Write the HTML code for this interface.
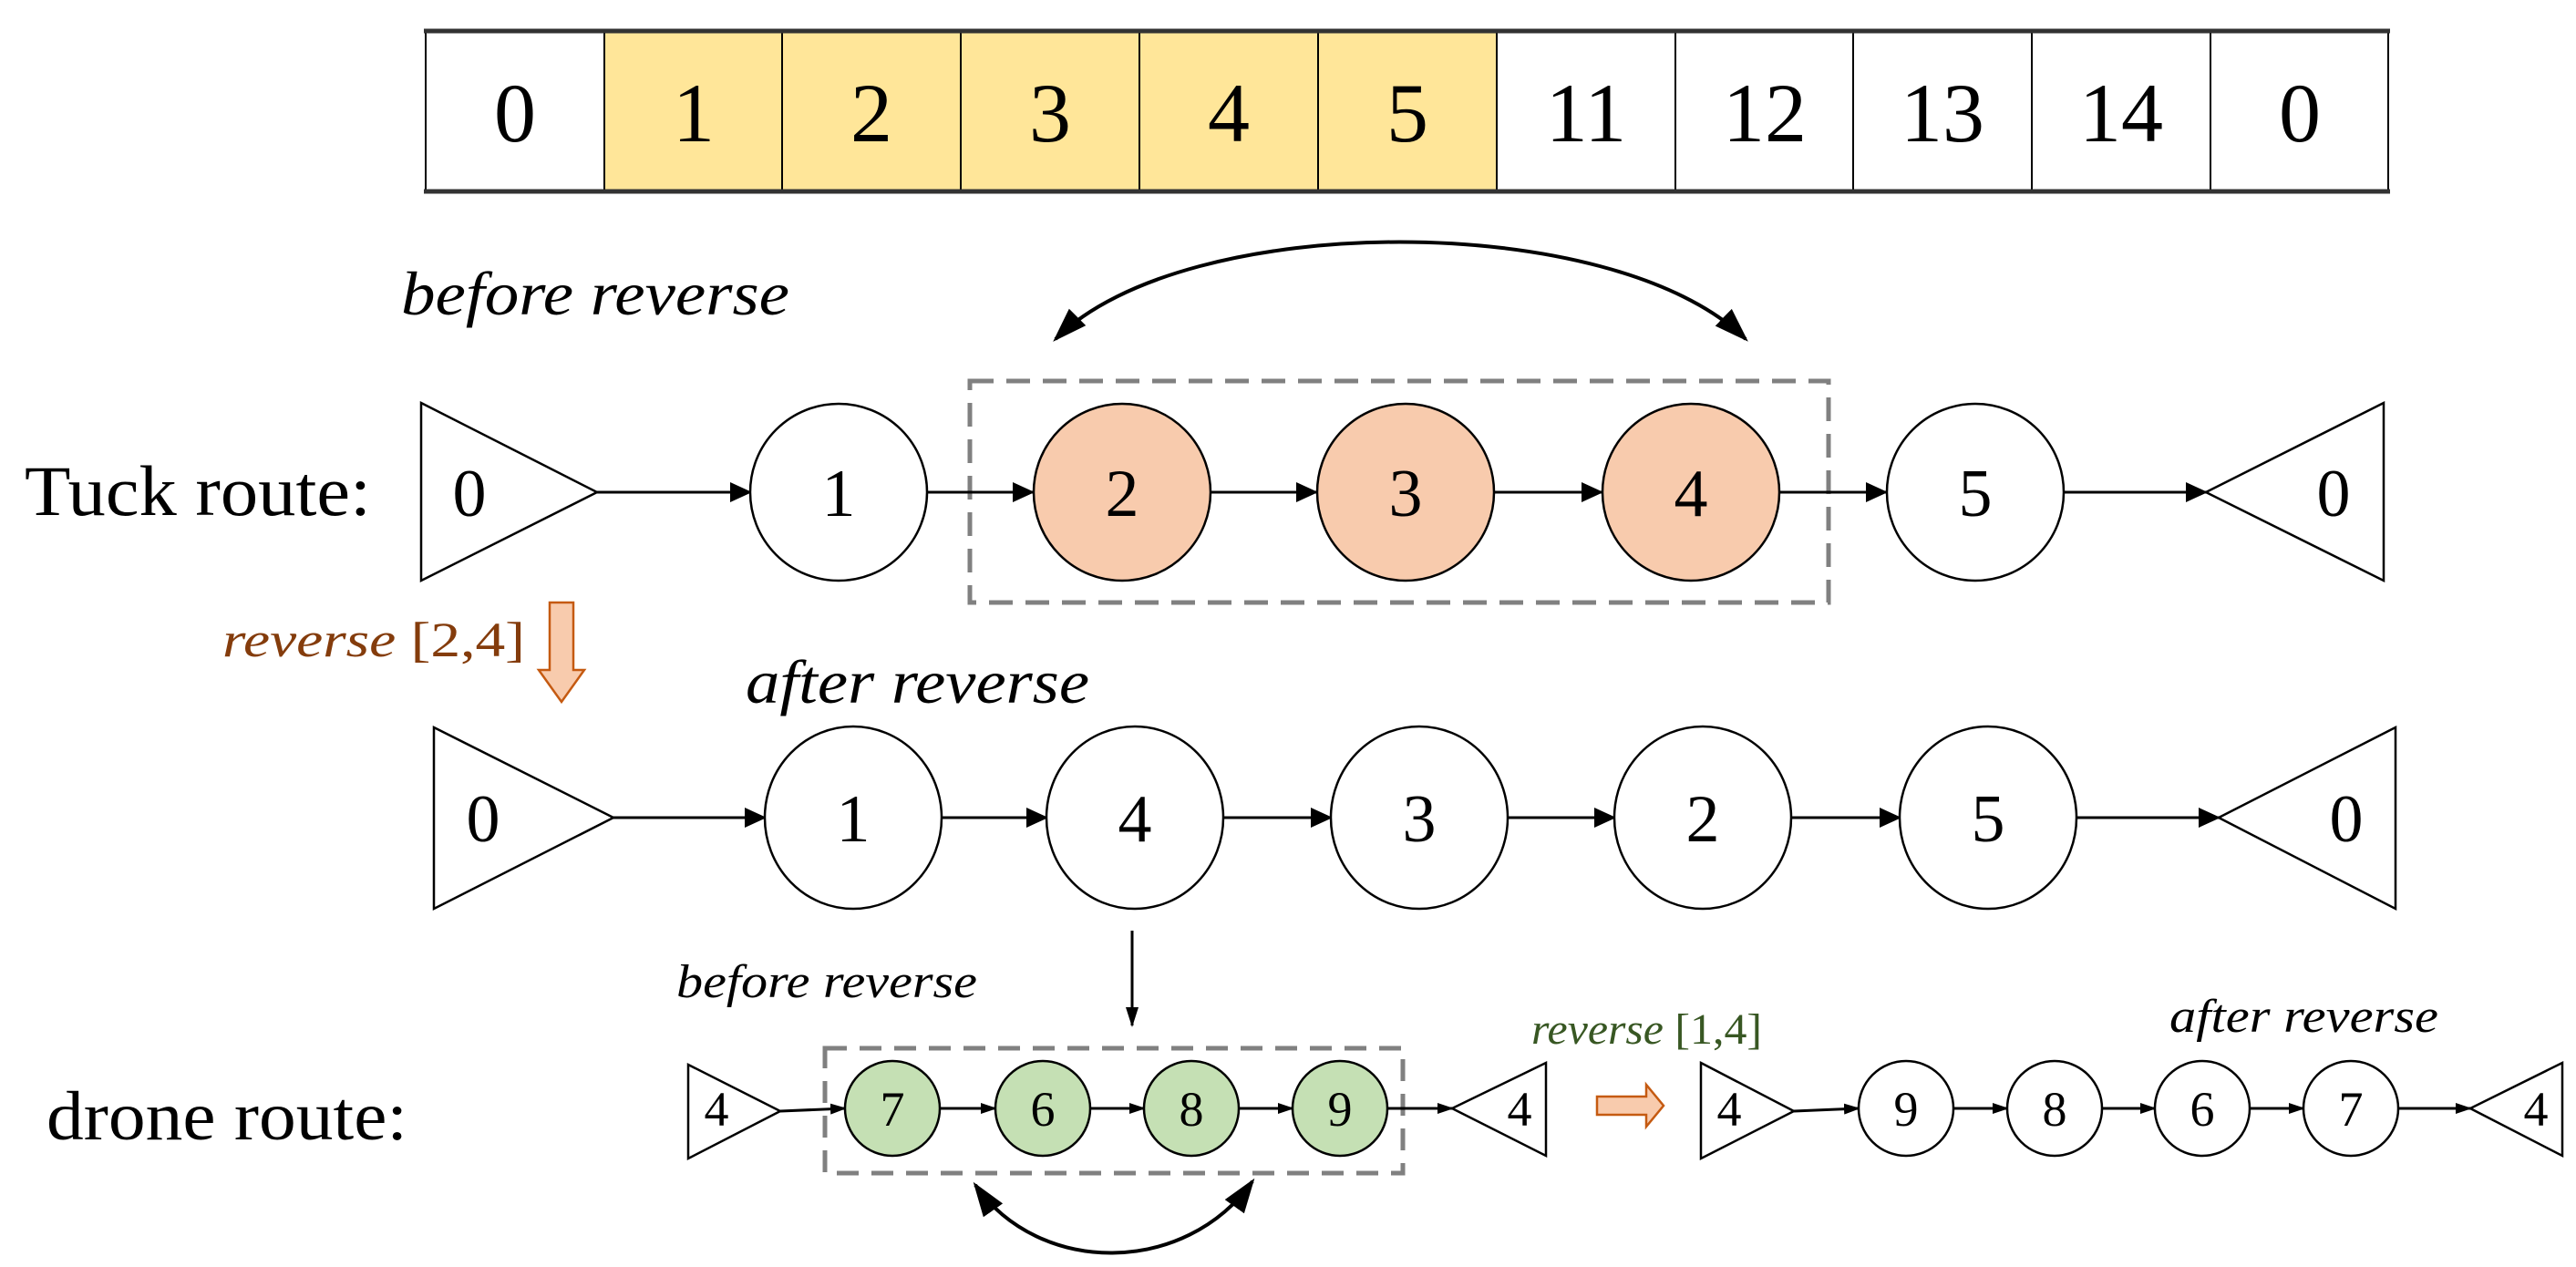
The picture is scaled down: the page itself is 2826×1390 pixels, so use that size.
<!DOCTYPE html>
<html><head><meta charset="utf-8"><style>html,body{margin:0;padding:0;background:#fff}svg{display:block}</style></head>
<body>
<svg width="2826" height="1390" viewBox="0 0 2826 1390" xmlns="http://www.w3.org/2000/svg" font-family="'Liberation Serif', serif">
<defs>
<marker id="ahB" markerWidth="26" markerHeight="26" refX="22" refY="13" orient="auto" markerUnits="userSpaceOnUse" viewBox="0 0 26 26"><path d="M0,2 L24,13 L0,24 z" fill="#000"/></marker>
<marker id="ahS" markerWidth="22" markerHeight="22" refX="20" refY="11" orient="auto" markerUnits="userSpaceOnUse" viewBox="0 0 22 22"><path d="M0,4 L22,11 L0,18 z" fill="#000"/></marker>
<marker id="ahT" markerWidth="18" markerHeight="18" refX="16" refY="9" orient="auto" markerUnits="userSpaceOnUse" viewBox="0 0 18 18"><path d="M0,3 L18,9 L0,15 z" fill="#000"/></marker>
<marker id="ahA" markerWidth="44" markerHeight="44" refX="34" refY="22" orient="auto-start-reverse" markerUnits="userSpaceOnUse" viewBox="0 0 44 44"><path d="M0,9 L38,22 L0,35 z" fill="#000"/></marker>
</defs>

<!-- top array -->
<g stroke="#000" stroke-width="2">
<rect x="467" y="34" width="196" height="176" fill="#fff"/>
<rect x="663" y="34" width="979" height="176" fill="#FFE699"/>
<rect x="1642" y="34" width="978" height="176" fill="#fff"/>
<line x1="858" y1="34" x2="858" y2="210"/><line x1="1054" y1="34" x2="1054" y2="210"/>
<line x1="1250" y1="34" x2="1250" y2="210"/><line x1="1446" y1="34" x2="1446" y2="210"/>
<line x1="1838" y1="34" x2="1838" y2="210"/><line x1="2033" y1="34" x2="2033" y2="210"/>
<line x1="2229" y1="34" x2="2229" y2="210"/><line x1="2425" y1="34" x2="2425" y2="210"/>
</g>
<line x1="465" y1="34" x2="2622" y2="34" stroke="#333" stroke-width="5"/>
<line x1="465" y1="210" x2="2622" y2="210" stroke="#333" stroke-width="5"/>
<g font-size="92" text-anchor="middle" fill="#000">
<text x="565" y="155">0</text><text x="761" y="155">1</text><text x="956" y="155">2</text><text x="1152" y="155">3</text><text x="1348" y="155">4</text><text x="1544" y="155">5</text><text x="1740" y="155">11</text><text x="1936" y="155">12</text><text x="2131" y="155">13</text><text x="2327" y="155">14</text><text x="2523" y="155">0</text>
</g>

<!-- tuck route before -->
<text x="440" y="345" font-size="68" font-style="italic" textLength="426" lengthAdjust="spacingAndGlyphs">before reverse</text>
<path d="M1158,372 C1300,230 1770,230 1915,372" fill="none" stroke="#000" stroke-width="4" marker-start="url(#ahA)" marker-end="url(#ahA)"/>
<text x="27" y="565" font-size="78" textLength="380" lengthAdjust="spacingAndGlyphs">Tuck route:</text>
<rect x="1064" y="418" width="942" height="243" fill="none" stroke="#808080" stroke-width="5" stroke-dasharray="26,14"/>
<g stroke="#000" stroke-width="3" marker-end="url(#ahB)">
<line x1="655" y1="540" x2="823" y2="540"/>
<line x1="1018" y1="540" x2="1133" y2="540"/>
<line x1="1329" y1="540" x2="1444" y2="540"/>
<line x1="1640" y1="540" x2="1757" y2="540"/>
<line x1="1953" y1="540" x2="2069" y2="540"/>
<line x1="2265" y1="540" x2="2420" y2="540"/>
</g>
<g stroke="#000" stroke-width="2.5">
<path d="M462,442 L655,540 L462,637 z" fill="#fff"/>
<path d="M2615,442 L2420,540 L2615,637 z" fill="#fff"/>
<ellipse cx="920" cy="540" rx="97" ry="97" fill="#fff"/>
<ellipse cx="1231" cy="540" rx="97" ry="97" fill="#F8CBAD"/>
<ellipse cx="1542" cy="540" rx="97" ry="97" fill="#F8CBAD"/>
<ellipse cx="1855" cy="540" rx="97" ry="97" fill="#F8CBAD"/>
<ellipse cx="2167" cy="540" rx="97" ry="97" fill="#fff"/>
</g>
<g font-size="74" text-anchor="middle">
<text x="515" y="566">0</text><text x="920" y="566">1</text><text x="1231" y="566">2</text><text x="1542" y="566">3</text><text x="1855" y="566">4</text><text x="2167" y="566">5</text><text x="2560" y="566">0</text>
</g>

<!-- reverse [2,4] -->
<text x="244" y="720" font-size="54" fill="#843C0C" textLength="332" lengthAdjust="spacingAndGlyphs"><tspan font-style="italic">reverse</tspan> [2,4]</text>
<path d="M603,661 L629,661 L629,735 L641,735 L616,770 L591,735 L603,735 z" fill="#F8CBAD" stroke="#C55A11" stroke-width="2.5"/>

<!-- after reverse -->
<text x="818" y="771" font-size="68" font-style="italic" textLength="377" lengthAdjust="spacingAndGlyphs">after reverse</text>
<g stroke="#000" stroke-width="3" marker-end="url(#ahB)">
<line x1="673" y1="897" x2="839" y2="897"/>
<line x1="1033" y1="897" x2="1148" y2="897"/>
<line x1="1342" y1="897" x2="1460" y2="897"/>
<line x1="1654" y1="897" x2="1771" y2="897"/>
<line x1="1965" y1="897" x2="2084" y2="897"/>
<line x1="2278" y1="897" x2="2434" y2="897"/>
</g>
<g stroke="#000" stroke-width="2.5" fill="#fff">
<path d="M476,798 L673,897 L476,997 z"/>
<path d="M2628,798 L2434,897 L2628,997 z"/>
<ellipse cx="936" cy="897" rx="97" ry="100"/>
<ellipse cx="1245" cy="897" rx="97" ry="100"/>
<ellipse cx="1557" cy="897" rx="97" ry="100"/>
<ellipse cx="1868" cy="897" rx="97" ry="100"/>
<ellipse cx="2181" cy="897" rx="97" ry="100"/>
</g>
<g font-size="74" text-anchor="middle">
<text x="530" y="923">0</text><text x="936" y="923">1</text><text x="1245" y="923">4</text><text x="1557" y="923">3</text><text x="1868" y="923">2</text><text x="2181" y="923">5</text><text x="2574" y="923">0</text>
</g>

<line x1="1242" y1="1021" x2="1242" y2="1125" stroke="#000" stroke-width="3" marker-end="url(#ahS)"/>

<!-- drone route -->
<text x="742" y="1094" font-size="52" font-style="italic" textLength="330" lengthAdjust="spacingAndGlyphs">before reverse</text>
<text x="51" y="1250" font-size="76" textLength="396" lengthAdjust="spacingAndGlyphs">drone route:</text>
<rect x="905" y="1150" width="634" height="137" fill="none" stroke="#808080" stroke-width="5" stroke-dasharray="24,14"/>
<g stroke="#000" stroke-width="3" marker-end="url(#ahT)">
<line x1="856" y1="1219" x2="927" y2="1216"/>
<line x1="1031" y1="1216" x2="1092" y2="1216"/>
<line x1="1196" y1="1216" x2="1255" y2="1216"/>
<line x1="1359" y1="1216" x2="1418" y2="1216"/>
<line x1="1522" y1="1216" x2="1593" y2="1216"/>
<line x1="1968" y1="1219" x2="2039" y2="1216"/>
<line x1="2143" y1="1216" x2="2202" y2="1216"/>
<line x1="2306" y1="1216" x2="2364" y2="1216"/>
<line x1="2468" y1="1216" x2="2527" y2="1216"/>
<line x1="2631" y1="1216" x2="2710" y2="1216"/>
</g>
<g stroke="#000" stroke-width="2.5">
<path d="M755,1168 L856,1219 L755,1271 z" fill="#fff"/>
<path d="M1696,1166 L1593,1216 L1696,1268 z" fill="#fff"/>
<ellipse cx="979" cy="1216" rx="52" ry="52" fill="#C5E0B4"/>
<ellipse cx="1144" cy="1216" rx="52" ry="52" fill="#C5E0B4"/>
<ellipse cx="1307" cy="1216" rx="52" ry="52" fill="#C5E0B4"/>
<ellipse cx="1470" cy="1216" rx="52" ry="52" fill="#C5E0B4"/>
<path d="M1866,1166 L1968,1219 L1866,1271 z" fill="#fff"/>
<path d="M2811,1166 L2710,1216 L2811,1268 z" fill="#fff"/>
<ellipse cx="2091" cy="1216" rx="52" ry="52" fill="#fff"/>
<ellipse cx="2254" cy="1216" rx="52" ry="52" fill="#fff"/>
<ellipse cx="2416" cy="1216" rx="52" ry="52" fill="#fff"/>
<ellipse cx="2579" cy="1216" rx="52" ry="52" fill="#fff"/>
</g>
<g font-size="54" text-anchor="middle">
<text x="786" y="1235">4</text><text x="979" y="1235">7</text><text x="1144" y="1235">6</text><text x="1307" y="1235">8</text><text x="1470" y="1235">9</text><text x="1667" y="1235">4</text>
<text x="1897" y="1235">4</text><text x="2091" y="1235">9</text><text x="2254" y="1235">8</text><text x="2416" y="1235">6</text><text x="2579" y="1235">7</text><text x="2782" y="1235">4</text>
</g>
<path d="M1070,1300 C1140,1400 1300,1400 1374,1296" fill="none" stroke="#000" stroke-width="4" marker-start="url(#ahA)" marker-end="url(#ahA)"/>

<text x="1680" y="1145" font-size="48" fill="#385723" textLength="253" lengthAdjust="spacingAndGlyphs"><tspan font-style="italic">reverse</tspan> [1,4]</text>
<path d="M1752,1203 L1806,1203 L1806,1190 L1825,1213 L1806,1236 L1806,1223 L1752,1223 z" fill="#F8CBAD" stroke="#C55A11" stroke-width="2.5"/>
<text x="2380" y="1132" font-size="52" font-style="italic" textLength="295" lengthAdjust="spacingAndGlyphs">after reverse</text>
</svg>
</body></html>
